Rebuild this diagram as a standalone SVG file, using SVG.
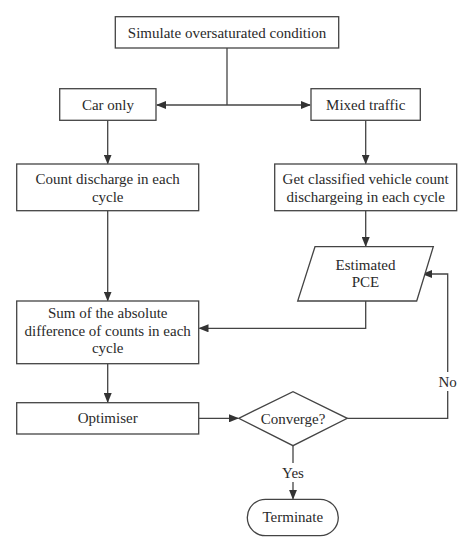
<svg xmlns="http://www.w3.org/2000/svg" width="474" height="553" viewBox="0 0 474 553">
<defs>
<marker id="ah" markerWidth="10" markerHeight="8" refX="9" refY="4" orient="auto" markerUnits="userSpaceOnUse">
<path d="M0,0 L10,4 L0,8 Z" fill="#333"/>
</marker>
<style>
.box{fill:#fff;stroke:#444;stroke-width:1.3}
.t{font-family:"Liberation Serif","Times New Roman",serif;font-size:15px;fill:#2a2a2a;text-anchor:middle}
.c{fill:none;stroke:#444;stroke-width:1.3}
.lbl{fill:#fff;stroke:none}
</style>
</defs>
<rect width="474" height="553" fill="#fff"/>
<g id="connectors">
<path class="c" d="M227,48 V105"/>
<path class="c" d="M227,105 H157" marker-end="url(#ah)"/>
<path class="c" d="M227,105 H310" marker-end="url(#ah)"/>
<path class="c" d="M107.7,120.3 V163.5" marker-end="url(#ah)"/>
<path class="c" d="M365.7,120.3 V163.5" marker-end="url(#ah)"/>
<path class="c" d="M365.7,210.7 V246" marker-end="url(#ah)"/>
<path class="c" d="M107.7,210.7 V300.5" marker-end="url(#ah)"/>
<path class="c" d="M365.7,301 V328.3 H199.5" marker-end="url(#ah)"/>
<path class="c" d="M107.7,363.7 V402" marker-end="url(#ah)"/>
<path class="c" d="M198.7,418.3 H238" marker-end="url(#ah)"/>
<path class="c" d="M347.3,418.3 H447.7 V274 H423" marker-end="url(#ah)"/>
<path class="c" d="M293,445.7 V498.8" marker-end="url(#ah)"/>
<rect class="lbl" x="437" y="372" width="22" height="19"/>
<text class="t" x="447.7" y="387">No</text>
<rect class="lbl" x="280" y="463" width="26" height="19"/>
<text class="t" x="293" y="477.5">Yes</text>
</g>
<g id="n1"><rect class="box" x="115.3" y="16.7" width="223.4" height="31.3"/><text class="t" x="227" y="37.5">Simulate oversaturated condition</text></g>
<g id="n2"><rect class="box" x="59.7" y="88.7" width="96.3" height="31.6"/><text class="t" x="108" y="109.5">Car only</text></g>
<g id="n3"><rect class="box" x="311" y="88.7" width="109.3" height="31.6"/><text class="t" x="365.7" y="109.5">Mixed traffic</text></g>
<g id="n4"><rect class="box" x="16.7" y="164" width="182" height="46.7"/><text class="t" x="107.7" y="183.5">Count discharge in each</text><text class="t" x="107.7" y="201.5">cycle</text></g>
<g id="n5"><rect class="box" x="274.7" y="164" width="182" height="46.7"/><text class="t" x="365.7" y="183.5">Get classified vehicle count</text><text class="t" x="365.7" y="201.5">dischargeing in each cycle</text></g>
<g id="n6"><polygon class="box" points="315,246.7 433.3,246.7 416.7,301 297.7,301"/><text class="t" x="365.5" y="269.5">Estimated</text><text class="t" x="365.5" y="287">PCE</text></g>
<g id="n7"><rect class="box" x="16.7" y="301" width="182" height="62.7"/><text class="t" x="107.7" y="318">Sum of the absolute</text><text class="t" x="107.7" y="335.5">difference of counts in each</text><text class="t" x="107.7" y="353">cycle</text></g>
<g id="n8"><rect class="box" x="16.7" y="402.7" width="182" height="31.3"/><text class="t" x="107.7" y="423">Optimiser</text></g>
<g id="n9"><polygon class="box" points="238.7,418.3 293,391.7 347.3,418.3 293,445.7"/><text class="t" x="293" y="423.5">Converge?</text></g>
<g id="n10"><rect class="box" x="247.3" y="499.3" width="91" height="36.4" rx="18.2"/><text class="t" x="292.8" y="522">Terminate</text></g>
</svg>
